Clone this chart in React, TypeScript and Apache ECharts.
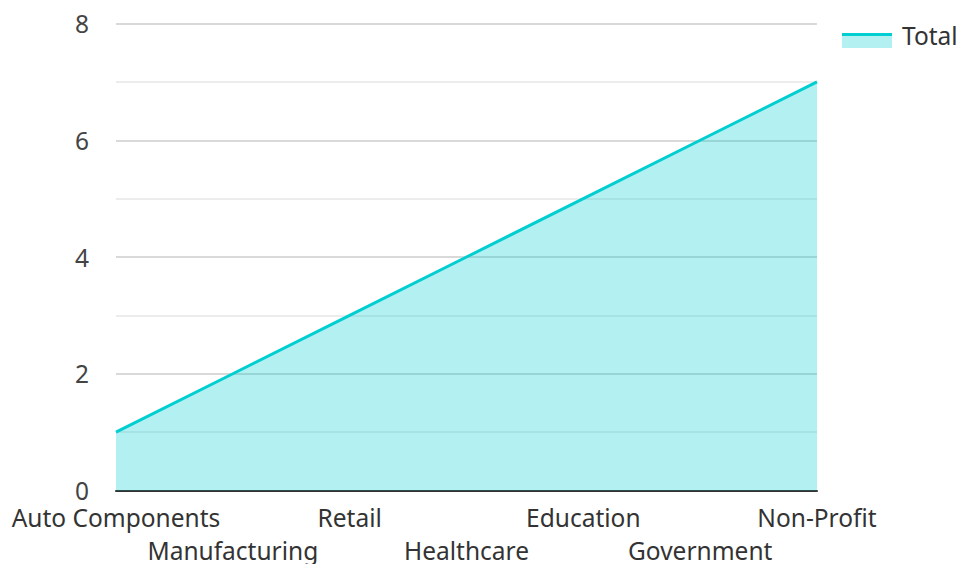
import React, { useEffect, useRef } from "react";
import * as echarts from "echarts";

const categories = ["Auto Components", "Manufacturing", "Retail", "Healthcare", "Education", "Government", "Non-Profit"];
const totalValues = [1, 2, 3, 4, 5, 6, 7];
const seriesName = "Total";
const LINE = "#00CED1";
const FONT = "'Noto Sans', sans-serif";
const FS = 24.5;

export default function App() {
  const ref = useRef<HTMLDivElement>(null);
  useEffect(() => {
    if (!ref.current) return;
    const chart = echarts.init(ref.current, undefined, { renderer: "svg" });
    chart.setOption({
      animation: false,
      textStyle: { fontFamily: FONT },
      grid: { left: 116, right: 142, top: 23.5, bottom: 73.5, containLabel: false, outerBoundsMode: "none" },
      xAxis: {
        type: "category",
        data: categories,
        boundaryGap: false,
        axisLine: { lineStyle: { color: "#333", width: 2 } },
        axisTick: { show: false },
        axisLabel: {
          interval: 0,
          color: "#333",
          fontSize: FS,
          fontFamily: FONT,
          lineHeight: 33,
          margin: 10,
          formatter: (v: string, i: number) => (i % 2 === 1 ? "\n" + v : v),
        },
      },
      yAxis: {
        type: "value",
        min: 0,
        max: 8,
        interval: 2,
        axisLine: { show: false },
        axisTick: { show: false },
        axisLabel: { color: "#444", fontSize: FS, fontFamily: FONT, margin: 27 },
        splitLine: { lineStyle: { color: "#cccccc", width: 1.5 } },
        minorTick: { show: false, splitNumber: 2 },
        minorSplitLine: { show: true, lineStyle: { color: "#e6e6e6", width: 1.5 } },
      },
      series: [
        {
          name: seriesName,
          type: "line",
          data: totalValues,
          symbol: "none",
          lineStyle: { color: LINE, width: 3 },
          areaStyle: { color: LINE, opacity: 0.3 },
        },
      ],
      graphic: [
        { type: "rect", shape: { x: 842, y: 33, width: 50, height: 15 }, style: { fill: "rgba(0,206,209,0.3)" } },
        { type: "line", shape: { x1: 842, y1: 34.5, x2: 892, y2: 34.5 }, style: { stroke: LINE, lineWidth: 3 } },
        {
          type: "text",
          x: 902,
          y: 35,
          style: { text: seriesName, fill: "#333", font: `${FS}px ${FONT}`, textVerticalAlign: "middle", verticalAlign: "middle" },
        },
      ],
    });
    return () => chart.dispose();
  }, []);
  return <div ref={ref} style={{ position: "absolute", left: 0, top: 0, width: 959, height: 564 }} />;
}
